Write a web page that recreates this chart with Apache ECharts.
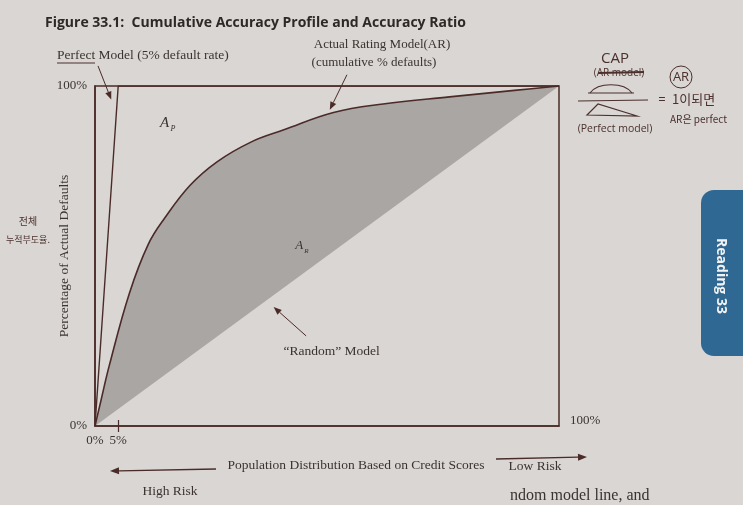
<!DOCTYPE html>
<html><head><meta charset="utf-8">
<script src="https://cdn.jsdelivr.net/npm/echarts@6/dist/echarts.min.js"></script>
<style>html,body{margin:0;padding:0;background:#d9d6d3;}#c{width:743px;height:505px;}</style>
</head><body><div id="c"></div>
<script>
// ---- data (% units) ----
const arX = [0, 1.2, 3.1, 7.4, 11.5, 15.1, 20.5, 26.3, 33.6, 40.7, 51.4, 62.1, 76.4, 90.4, 100];
const arY = [0, 7, 17.9, 39, 53.5, 61.3, 70.8, 77.7, 83.5, 87.1, 92.2, 94.7, 96.8, 98.7, 100];
const perfectX = [0, 5, 100];
const perfectY = [0, 100, 100];
const randomX = [0, 100];
const randomY = [0, 100];
const xTickVals = [0, 5];
const xEndTick = 100;
const yTickVals = [0, 100];

const BG = '#d9d6d3', SHADE = '#a9a6a3', INK = '#4a2b27', TXT = '#3b3330', PEN = '#4b302c';
const serif = '"Liberation Serif", "DejaVu Serif", serif';
const sans = '"Open Sans", "Noto Sans", sans-serif';
const kr = '"Noto Sans CJK KR", sans-serif';
const zip = (a, b) => a.map((v, i) => [v, b[i]]);

const chart = echarts.init(document.getElementById('c'));
chart.setOption({
  backgroundColor: BG,
  animation: false,
  grid: { left: 95, top: 86, right: 184, bottom: 79, show: true, borderColor: INK, borderWidth: 1.5, z: 5, backgroundColor: 'transparent' },
  xAxis: [{
    type: 'value', min: 0, max: 100, z: 6,
    axisLine: { show: true, lineStyle: { color: INK, width: 1.5 } },
    splitLine: { show: false },
    axisTick: { show: true, customValues: [5], length: 6, lineStyle: { color: INK, width: 1.2 } },
    axisLabel: { customValues: xTickVals, formatter: '{value}%', color: TXT, fontFamily: serif, fontSize: 13, margin: 8 }
  }, {
    type: 'value', min: 0, max: 100, position: 'bottom', z: 6,
    axisLine: { show: false }, splitLine: { show: false }, axisLabel: { show: false },
    axisTick: { show: true, inside: true, customValues: [5], length: 6, lineStyle: { color: INK, width: 1.2 } }
  }],
  yAxis: {
    type: 'value', min: 0, max: 100, z: 6,
    name: 'Percentage of Actual Defaults', nameLocation: 'middle', nameGap: 24, nameMoveOverlap: false,
    nameTextStyle: { color: TXT, fontFamily: serif, fontSize: 13.5 },
    axisLine: { show: true, lineStyle: { color: INK, width: 1.5 } },
    axisTick: { show: false }, splitLine: { show: false },
    axisLabel: { customValues: yTickVals, formatter: '{value}%', color: TXT, fontFamily: serif, fontSize: 13, margin: 8 }
  },
  series: [
    { name: 'Actual Rating Model', type: 'line', data: zip(arX, arY), smooth: 0.4, symbol: 'none',
      lineStyle: { color: INK, width: 1.6 }, areaStyle: { color: SHADE, opacity: 1 }, z: 2 },
    { name: 'Random Model', type: 'line', data: zip(randomX, randomY), symbol: 'none',
      lineStyle: { width: 0, opacity: 0 }, areaStyle: { color: BG, opacity: 1 }, z: 3 },
    { name: 'Perfect Model', type: 'line', data: zip(perfectX, perfectY), symbol: 'none',
      lineStyle: { color: INK, width: 1.4 }, z: 4 }
  ]
});

const P = (x, y) => chart.convertToPixel({ xAxisIndex: 0, yAxisIndex: 0 }, [x, y]);
function arrow(a, b, w, hl, hw) {
  hl = hl || 8; hw = hw || 3.2;
  const dx = b[0] - a[0], dy = b[1] - a[1], L = Math.hypot(dx, dy), ux = dx / L, uy = dy / L;
  const base = [b[0] - ux * hl, b[1] - uy * hl];
  return [
    { type: 'line', z: 20, shape: { x1: a[0], y1: a[1], x2: base[0], y2: base[1] }, style: { stroke: INK, lineWidth: w || 1 } },
    { type: 'polygon', z: 20, shape: { points: [b, [base[0] - uy * hw, base[1] + ux * hw], [base[0] + uy * hw, base[1] - ux * hw]] }, style: { fill: INK } }
  ];
}
function txt(x, y, text, o) {
  o = o || {};
  return { type: 'text', z: 20, x: x, y: y, rotation: o.rot || 0,
    style: { text: text, fill: o.fill || TXT, fontFamily: o.ff || serif, fontSize: o.fs || 13.5,
      fontWeight: o.fw || 'normal', fontStyle: o.fst || 'normal', align: o.al || 'left', verticalAlign: o.va || 'middle' } };
}

const ap = P(15, 89), ar = P(44, 53), rnd = P(51, 22), end = P(xEndTick, 0);
const g = [];
// title
g.push(txt(45, 23, 'Figure 33.1:  Cumulative Accuracy Profile and Accuracy Ratio', { ff: sans, fs: 14, fw: 'bold', fill: '#2e2927' }));
// top labels
g.push(txt(57, 55, 'Perfect Model (5% default rate)', { fs: 13.5 }));
g.push({ type: 'line', z: 20, shape: { x1: 57, y1: 63, x2: 95, y2: 63 }, style: { stroke: PEN, lineWidth: 1 } });
g.push(txt(382, 45, 'Actual Rating Model(AR)', { al: 'center', fs: 13 }));
g.push(txt(374, 63, '(cumulative % defaults)', { al: 'center', fs: 13 }));
// inner labels
g.push(txt(ap[0], ap[1], 'A', { fst: 'italic', fs: 15, al: 'center' }));
g.push(txt(ap[0] + 6, ap[1] + 5, 'P', { fst: 'italic', fs: 8, al: 'left' }));
g.push(txt(ar[0], ar[1], 'A', { fst: 'italic', fs: 13, al: 'center' }));
g.push(txt(ar[0] + 5, ar[1] + 5, 'R', { fst: 'italic', fs: 7, al: 'left' }));
g.push(txt(rnd[0], rnd[1], '\u201CRandom\u201D Model', { al: 'center', fs: 13.5 }));
// arrows in data space
g.push(...arrow(P(45.5, 26.5), P(38.5, 35)));
g.push(...arrow(P(0.65, 105.9), P(3.5, 96)));
g.push(...arrow(P(54.3, 103.3), P(50.6, 93.0)));
// x end label
g.push(txt(end[0] + 11, end[1] - 5, xEndTick + '%', { fs: 13 }));
// x axis description
g.push(txt(356, 465, 'Population Distribution Based on Credit Scores', { al: 'center', fs: 13.5 }));
g.push(...arrow([496, 459], [587, 457], 1.3, 9, 3.5));
g.push(...arrow([216, 469], [110, 471], 1.3, 9, 3.5));
g.push(txt(535, 466, 'Low Risk', { al: 'center', fs: 13.5 }));
g.push(txt(170, 491, 'High Risk', { al: 'center', fs: 13.5 }));
// bottom body text fragment
g.push(txt(510, 496, 'ndom model line, and', { fs: 16, fill: '#3a3330' }));
// handwritten notes
g.push(txt(615, 59, 'CAP', { ff: sans, fs: 15, fill: PEN, al: 'center' }));
g.push(txt(619, 73, '(AR model)', { ff: sans, fs: 10, fill: PEN, al: 'center' }));
g.push({ type: 'line', z: 21, shape: { x1: 598, y1: 73, x2: 644, y2: 72 }, style: { stroke: PEN, lineWidth: 2.2 } });
g.push({ type: 'bezierCurve', z: 20, shape: { x1: 590, y1: 93, cpx1: 598, cpy1: 82, cpx2: 624, cpy2: 82, x2: 632, y2: 93 }, style: { stroke: PEN, lineWidth: 1.2, fill: 'none' } });
g.push({ type: 'line', z: 20, shape: { x1: 588, y1: 93, x2: 634, y2: 93 }, style: { stroke: PEN, lineWidth: 1.2 } });
g.push({ type: 'line', z: 20, shape: { x1: 578, y1: 101, x2: 648, y2: 100 }, style: { stroke: PEN, lineWidth: 1.2 } });
g.push({ type: 'polygon', z: 20, shape: { points: [[598, 104], [587, 115], [637, 116]] }, style: { stroke: PEN, lineWidth: 1.2, fill: 'none' } });
g.push(txt(615, 129, '(Perfect model)', { ff: sans, fs: 10.5, fill: PEN, al: 'center' }));
g.push(txt(662, 100, '=', { ff: sans, fs: 13, fill: PEN, al: 'center' }));
g.push({ type: 'circle', z: 20, shape: { cx: 681, cy: 77, r: 11 }, style: { stroke: PEN, lineWidth: 1, fill: 'none' } });
g.push(txt(681, 77, 'AR', { ff: sans, fs: 13, fill: PEN, al: 'center' }));
g.push(txt(672, 99, '1이되면', { ff: kr, fs: 13, fill: PEN }));
g.push(txt(670, 119, 'AR은 perfect', { ff: kr, fs: 10, fill: PEN }));
g.push(txt(28, 221, '전체', { ff: kr, fs: 10, fill: PEN, al: 'center' }));
g.push(txt(6, 240, '누적부도율.', { ff: kr, fs: 9, fill: PEN, al: 'left' }));
// Reading tab
g.push({ type: 'rect', z: 20, shape: { x: 701, y: 190, width: 60, height: 166, r: 13 }, style: { fill: '#2e6893' } });
g.push(txt(721, 276, 'Reading 33', { ff: sans, fs: 14, fw: 'bold', fill: '#f2f2f2', al: 'center', rot: -Math.PI / 2 }));

chart.setOption({ graphic: { elements: g } });
</script></body></html>
